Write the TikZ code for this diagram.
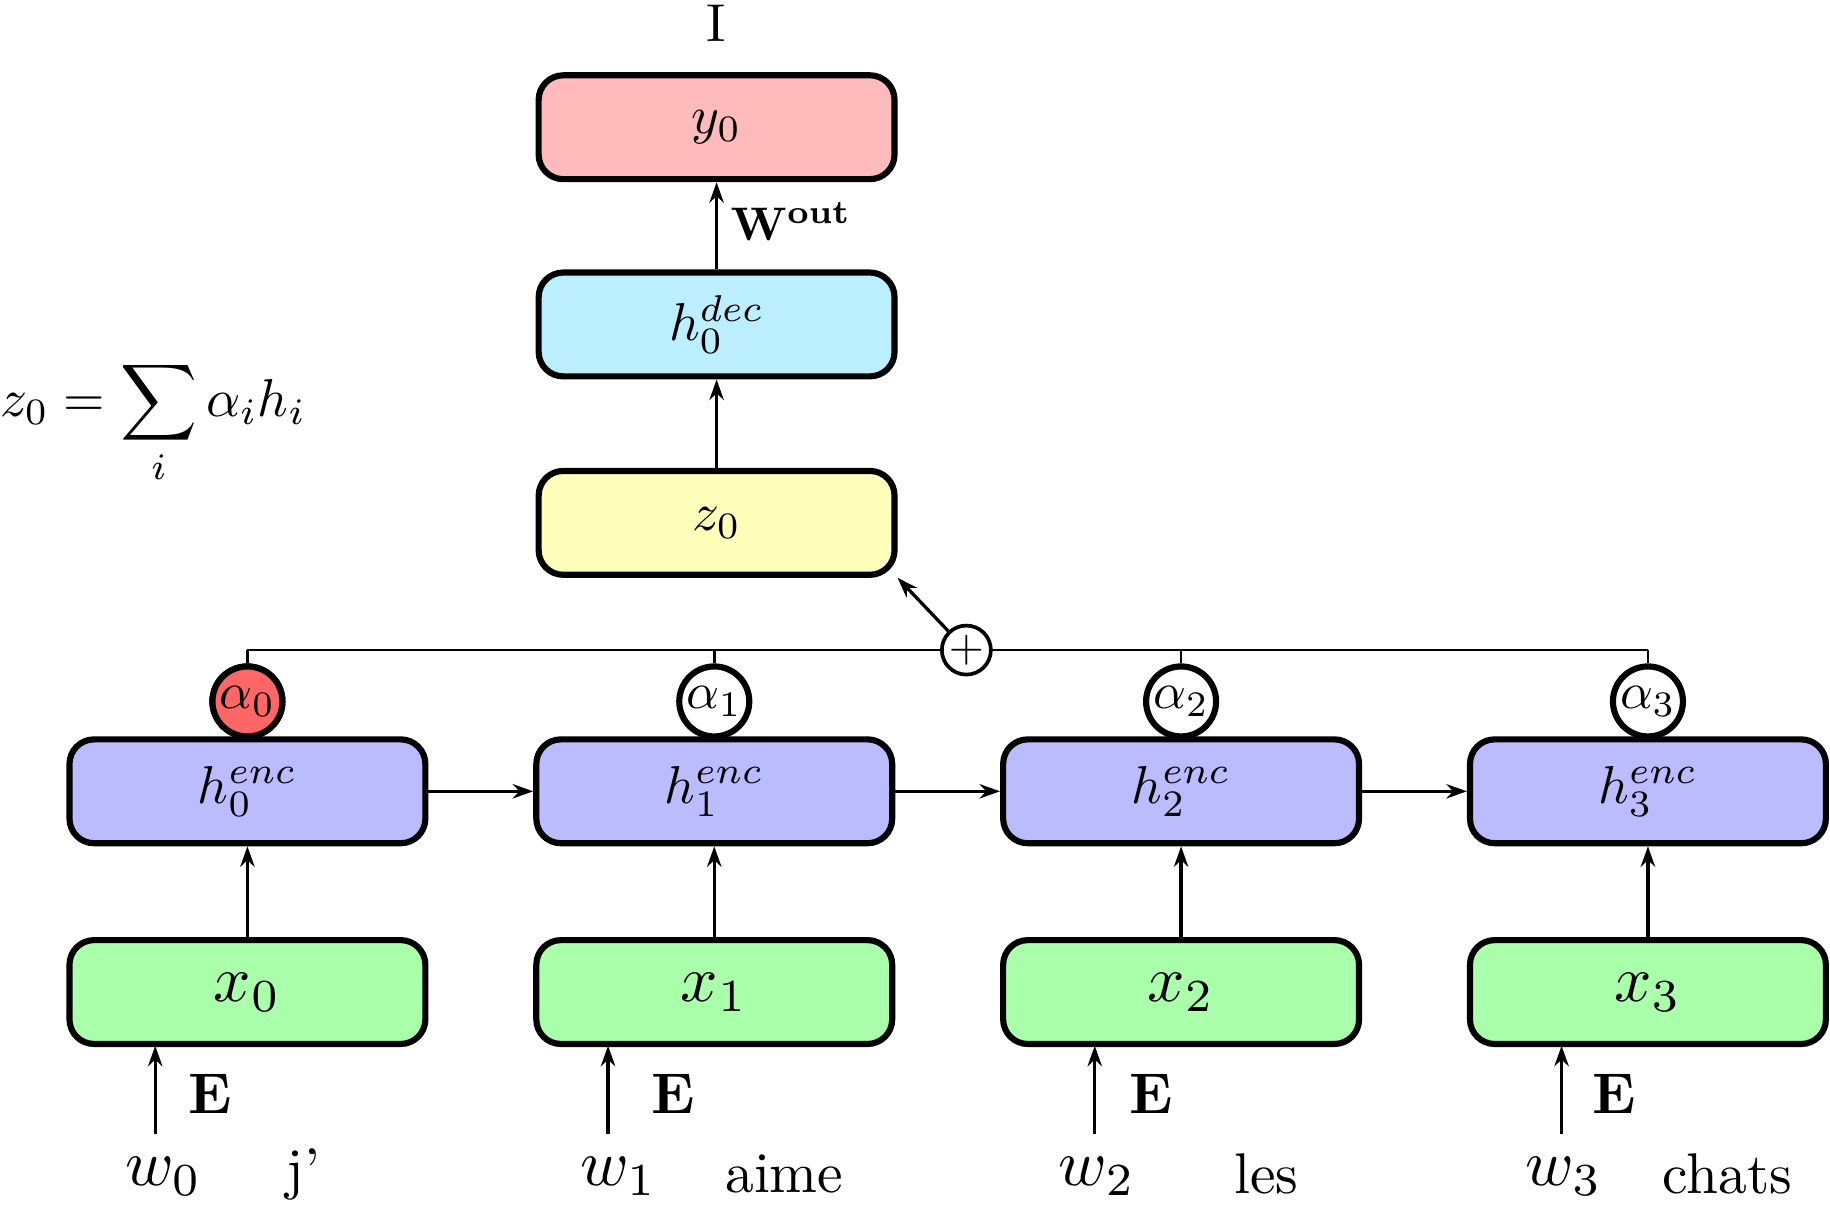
\documentclass[tikz,border=0pt]{standalone}
\usepackage{graphicx}
\usetikzlibrary{arrows.meta}
\newcommand\sbx[2]{\scalebox{#1}{#2}}
\begin{document}
\begin{tikzpicture}[x=0.02cm,y=-0.02cm,
 box/.style={draw,line width=3pt,rounded corners=12pt,minimum width=6.1cm,minimum height=1.78cm,inner sep=0pt},
 circ/.style={draw,circle,line width=3pt,minimum size=1.2cm,inner sep=0pt,fill=white},
 arr/.style={line width=1.6pt,-{Stealth[length=10pt,width=7pt]}},
 lbl/.style={inner sep=0pt}]
\useasboundingbox (0,0) rectangle (1568,1032);
\definecolor{cg}{HTML}{AAFFAA}\definecolor{cb}{HTML}{BBBBFF}
\definecolor{cy}{HTML}{FFFFBB}\definecolor{cc}{HTML}{BBEEFF}
\definecolor{cp}{HTML}{FFBBBB}\definecolor{cr}{HTML}{FF6666}
\foreach \i/\c/\a/\e/\w/\ww/\t in {0/212/133/180/140/260/j',1/612/521/577/530/672/aime,2/1012/938/986/940/1085/les,3/1412/1338/1383/1340/1480/chats}{
 \node[box,fill=cg] (x\i) at (\c,850) {\sbx{3.2}{$x_{\i}$}};
 \node[box,fill=cb] (h\i) at (\c,678) {\sbx{2.6}{$h_{\i}^{enc}$}};
 \draw[arr] (x\i) -- (h\i);
 \coordinate (ws\i) at (\a,972);
 \draw[arr] (ws\i) -- (\a,896);
 \node[lbl] (E\i) at (\e,937) {\sbx{2.8}{$\mathbf{E}$}};
 \node[lbl] (w\i) at (\w,1008) {\sbx{3.2}{$w_{\i}$}};
 \node[lbl] (t\i) at (\ww,1006) {\sbx{2.8}{\t}};
 \node[circ] (a\i) at (\c,601) {\sbx{2.5}{$\alpha_{\i}$}};
 \draw[line width=1.3pt] (a\i.north) -- (\c,557);
}
\node[circ,fill=cr] at (212,601) {\sbx{2.5}{$\alpha_0$}};
\draw[line width=1.3pt] (212,557) -- (1412,557);
\draw[arr] (h0) -- (h1); \draw[arr] (h1) -- (h2); \draw[arr] (h2) -- (h3);
\node[box,fill=cy] (z) at (614,448) {\sbx{2.6}{$z_0$}};
\node[box,fill=cc] (hd) at (614,278) {\sbx{2.6}{$h_0^{dec}$}};
\node[box,fill=cp] (y) at (614,109) {\sbx{2.6}{$y_0$}};
\node[draw,circle,line width=1.8pt,minimum size=0.84cm,inner sep=0pt,fill=white] (p) at (828,557) {\sbx{2.2}{$+$}};
\draw[arr] (p) -- (z.south east);
\draw[arr] (z) -- (hd);
\draw[arr] (hd) -- (y) node[pos=0.55,right=6pt,lbl]{\sbx{2.3}{$\mathbf{W}^{\mathbf{out}}$}};
\node[lbl] (I) at (614,20) {\sbx{2.6}{I}};
\node[lbl,anchor=west] (f) at (0,362) {\sbx{2.6}{$z_0=\displaystyle\sum_i\alpha_i h_i$}};
\end{tikzpicture}
\end{document}
